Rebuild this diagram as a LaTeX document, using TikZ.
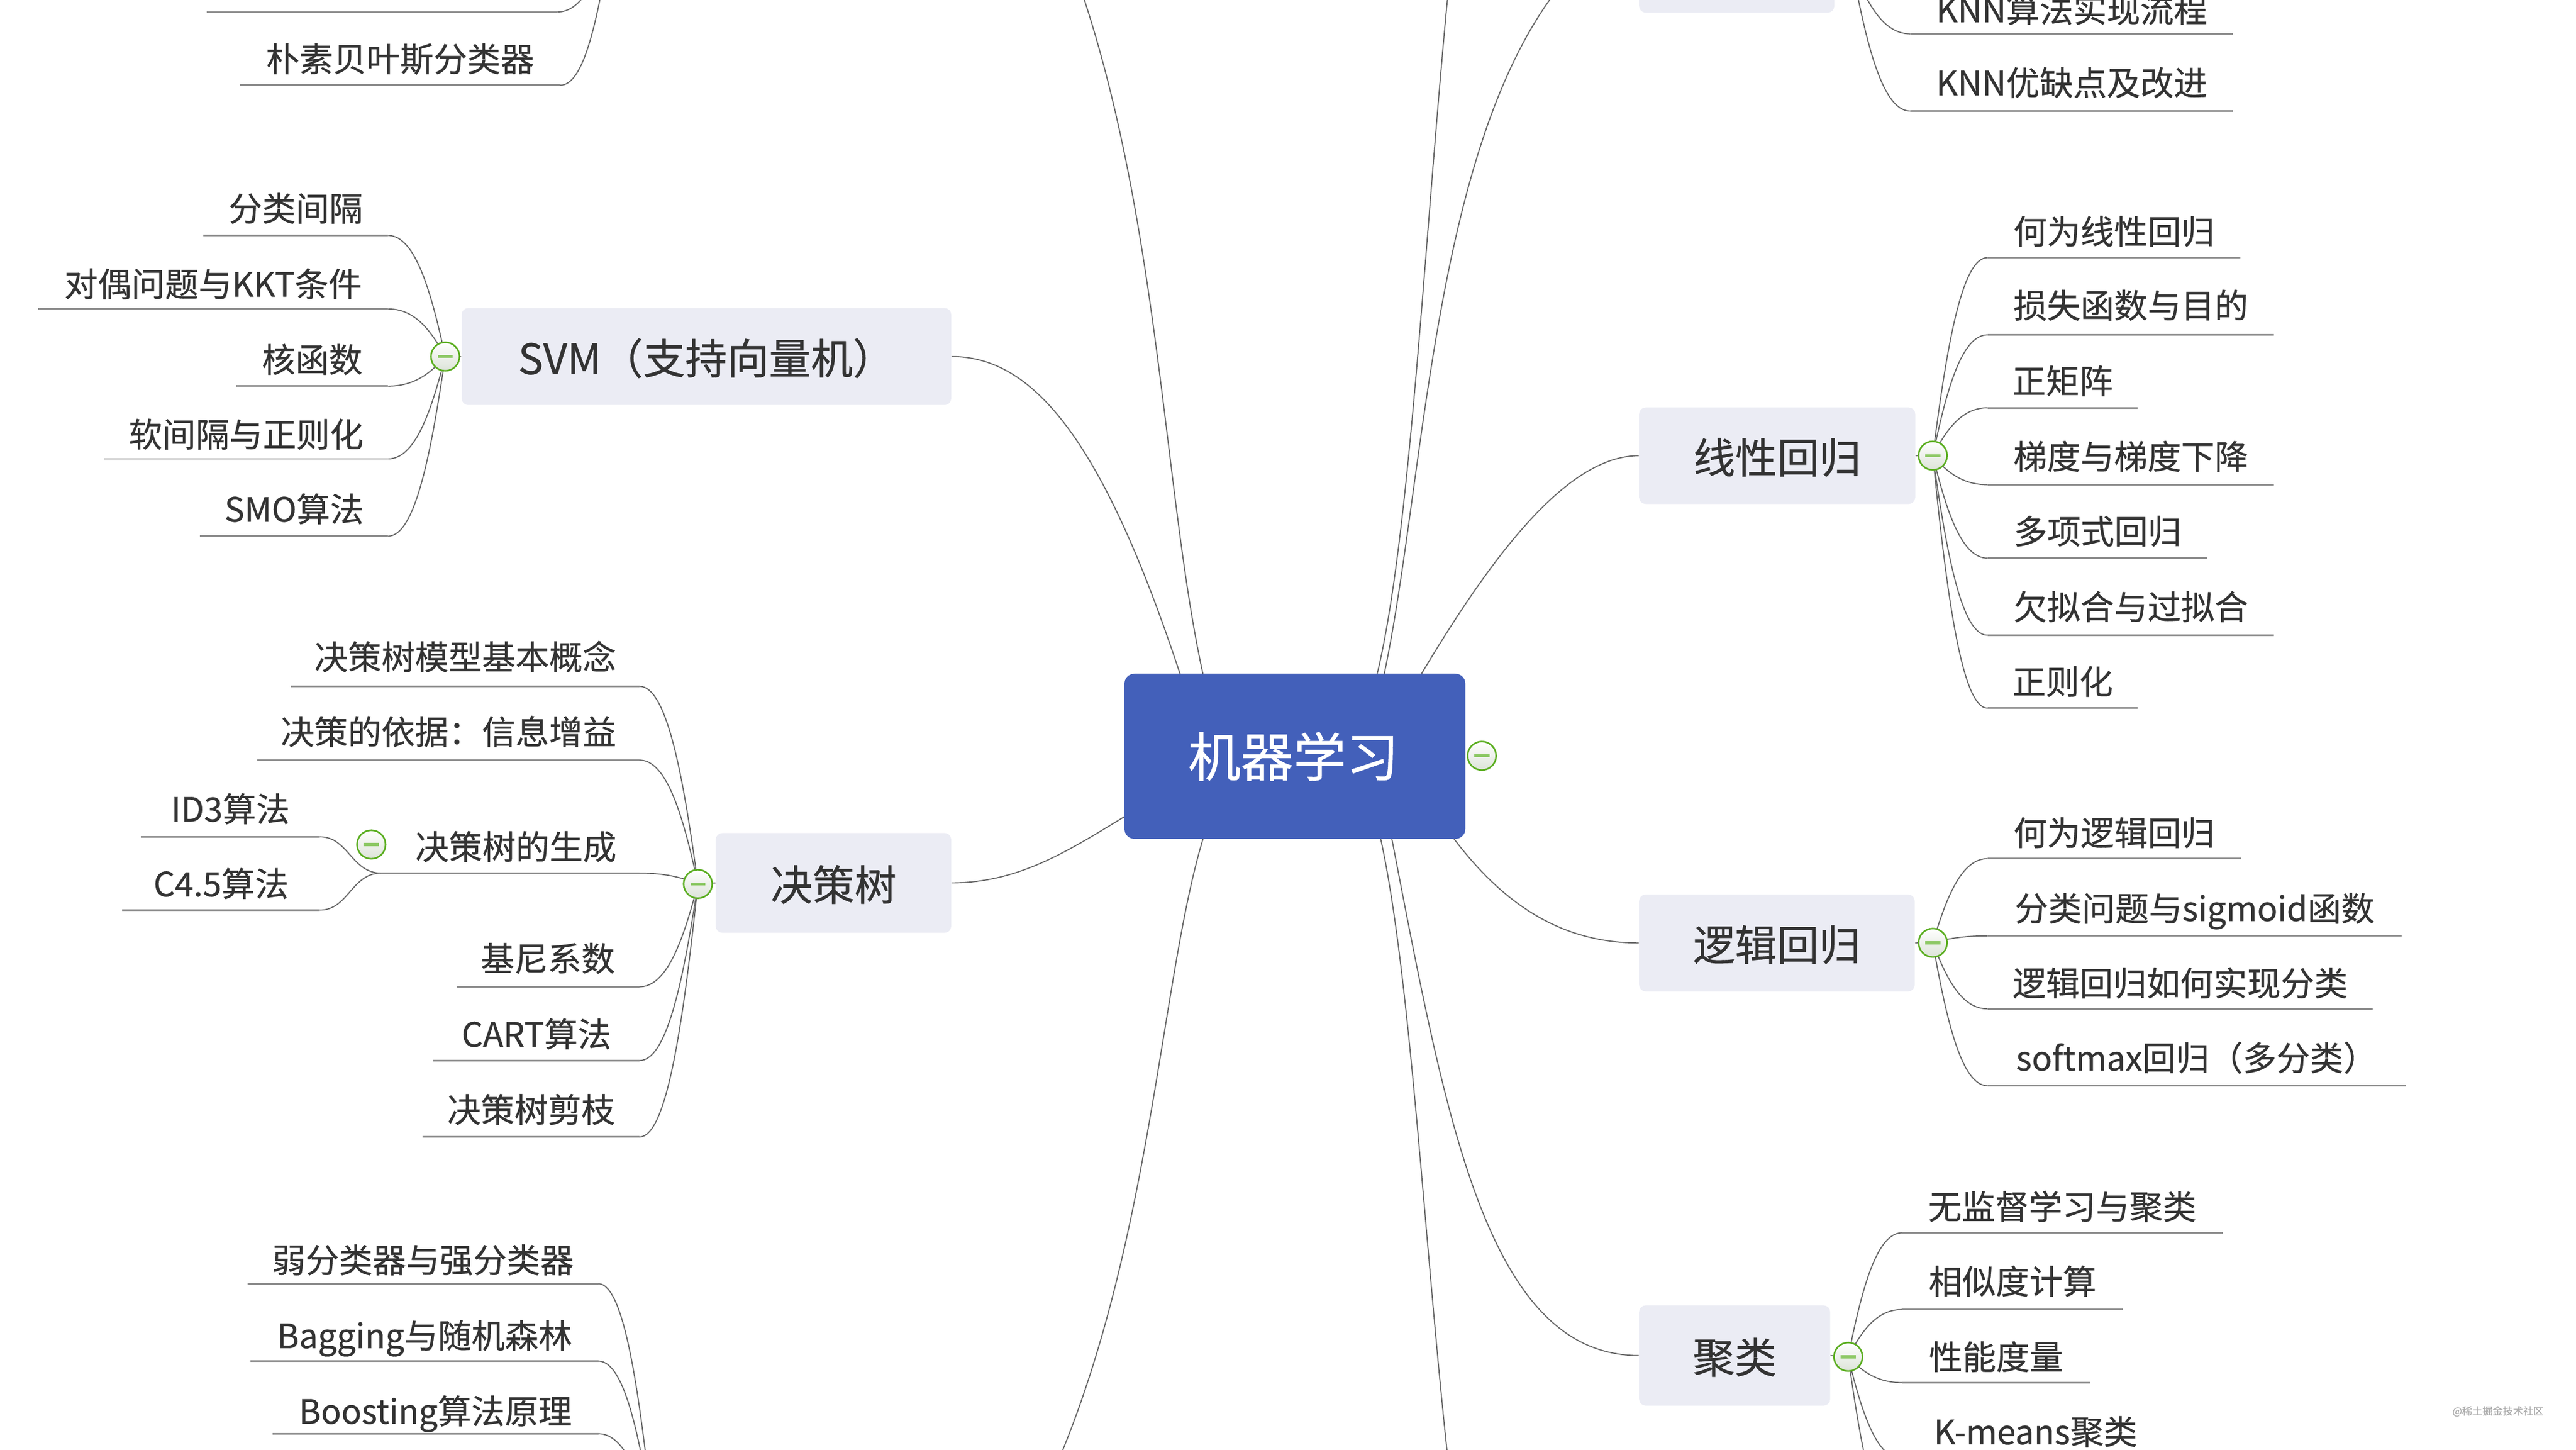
\documentclass[tikz,border=0pt]{standalone}
\usepackage{fontspec}
\setmainfont{Noto Sans CJK SC}[FakeBold=0.5]
\usetikzlibrary{calc,backgrounds}
\definecolor{txt}{HTML}{333333}
\definecolor{conn}{HTML}{686868}
\definecolor{uline}{HTML}{8E8E8E}
\definecolor{topicfill}{HTML}{EBECF4}
\definecolor{rootfill}{HTML}{4360BA}
\definecolor{toggreen}{HTML}{5BAE21}
\definecolor{togminus}{HTML}{8CC864}
\definecolor{togbottom}{HTML}{DCE3D8}
\tikzset{
  connline/.style={draw=conn,line width=0.55pt},
  ulinepath/.style={draw=uline,line width=0.85pt},
  mmleaf/.style={inner sep=0pt,anchor=south,text=txt,
    font=\fontsize{16.8}{20}\selectfont,text height=15pt,text depth=2.2pt},
  mmtopic/.style={inner sep=0pt,fill=topicfill,rounded corners=3.3pt,text=txt,
    font=\fontsize{21}{25}\selectfont,text height=19.6pt,text depth=2pt},
  mmroot/.style={inner sep=0pt,fill=rootfill,rounded corners=5pt,text=white,
    font=\fontsize{26.4}{30}\selectfont},
  mmtoggle/.style={circle,inner sep=0pt,minimum size=14.3pt,draw=toggreen,line width=0.8pt,
    top color=white,bottom color=togbottom,
    path picture={\draw[togminus,line width=1.5pt]
      ([xshift=-3.8pt]path picture bounding box.center) -- ([xshift=3.8pt]path picture bounding box.center);}},
  wmark/.style={text=black!32,font=\fontsize{5.1}{6}\selectfont,inner sep=0pt}
}
% name, x0, x1, underline y, text centre y, text
\newcommand{\mmleafnode}[6]{%
  \node[mmleaf,minimum width={(#3-#2)*0.8232pt},minimum height={2*(#4-#5)*0.8232pt}] (#1) at ({(#2+#3)/2},#4) {#6};
  \draw[ulinepath] (#1.south west) -- (#1.south east);}
% name, x0, x1, y0, y1, text
\newcommand{\mmtopicnode}[6]{%
  \node[mmtopic,minimum width={(#3-#2)*0.8232pt},minimum height={(#5-#4)*0.8232pt}] (#1) at ({(#2+#3)/2},{(#4+#5)/2}) {#6};}
% from, to : branch shaped curve on the background layer
\newcommand{\mmbranch}[2]{%
  \begin{pgfonlayer}{background}
  \draw[connline] let \p1=(#1),\p2=(#2) in (\p1) .. controls ({\x1+.46*(\x2-\x1)},\y1) and ({\x1+.74*(\x2-\x1)},{\y1+.43*(\y2-\y1)}) .. (\p2);
  \end{pgfonlayer}}
\begin{document}
\begin{tikzpicture}[x=0.02893cm,y=-0.02893cm]
\useasboundingbox (0,0) rectangle (1568,882.45);

% root
\node[mmroot,minimum width={207.5*0.8232pt},minimum height={100.5*0.8232pt}] (root) at (788.2,460.3) {\kern-1.5pt机器学习};
\node[mmtoggle] (troot) at (902,460) {};

% root attach points
\coordinate (ct1) at (718.4,410.5);
\coordinate (ct2) at (732.3,410.5);
\coordinate (ct3) at (838.2,410.5);
\coordinate (ct4) at (842.5,410.5);
\coordinate (ct5) at (865,410.5);
\coordinate (cb1) at (732.3,510.5);
\coordinate (cb2) at (840.4,510.5);
\coordinate (cb3) at (847.2,510.5);
\coordinate (cb4) at (885,510.5);
% off-picture ends
\coordinate (offbayes) at (655,-15);
\coordinate (offtop) at (885,-40);
\coordinate (offtopb) at (955,-15);
\coordinate (offbottomL) at (630,920);
\coordinate (offbottomR) at (885,920);
\coordinate (tbayes) at (372,-40);
\coordinate (tboost) at (398,930);
\coordinate (tknn) at (1127,-22);
\coordinate (nextcluster) at (1158,934);
\coordinate (rootw) at (684.5,497);
\coordinate (gjoin) at (232,531.4);

% topics
\mmtopicnode{svm}{281}{579}{187.5}{246.5}{SVM（支持向量机）}
\mmtopicnode{tree}{435.7}{579}{507}{567.7}{决策树}
\mmtopicnode{knn}{997.7}{1116.5}{-52}{7.7}{}
\mmtopicnode{lin}{997.7}{1165.8}{248}{306.7}{线性回归}
\mmtopicnode{logi}{997.7}{1165.5}{544.4}{603.4}{逻辑回归}
\mmtopicnode{clu}{997.7}{1114}{794.5}{855.5}{聚类}

% toggles
\node[mmtoggle] (tsvm) at (271,217) {};
\node[mmtoggle] (ttree) at (424.8,538) {};
\node[mmtoggle] (tgen) at (226,514) {};
\node[mmtoggle] (tlin) at (1176.5,277.3) {};
\node[mmtoggle] (tlogi) at (1176.5,573.8) {};
\node[mmtoggle] (tclu) at (1125,825.8) {};

% root connectors
\begin{pgfonlayer}{background}
\draw[connline] (svm.east) .. controls (630,217) and (672,270) .. (ct1);
\draw[connline] (ct2) .. controls (708,300) and (706,130) .. (offbayes);
\draw[connline] (ct3) .. controls (860,320) and (868,120) .. (offtop);
\draw[connline] (ct4) .. controls (868,290) and (872,80) .. (offtopb);
\draw[connline] (lin.west) .. controls (955,277.4) and (910,335) .. (ct5);
\draw[connline] (tree.east) .. controls (620,537.3) and (650,518) .. (rootw);
\draw[connline] (cb1) .. controls (705,600) and (700,780) .. (offbottomL);
\draw[connline] (cb2) .. controls (860,600) and (868,780) .. (offbottomR);
\draw[connline] (cb3) .. controls (880,680) and (905,825) .. (clu.west);
\draw[connline] (cb4) .. controls (915,550) and (950,573.9) .. (logi.west);
\draw[connline] (lin.east) -- (tlin);
\draw[connline] (logi.east) -- (tlogi);
\draw[connline] (clu.east) -- (tclu);
\draw[connline] (svm.west) -- (tsvm);
\draw[connline] (tree.west) -- (ttree);
\end{pgfonlayer}

% naive bayes fragment
\mmleafnode{bayes1}{126}{339}{7.3}{-9}{}
\mmleafnode{bayes2}{146}{341}{51.8}{36}{朴素贝叶斯分类器}
\mmbranch{bayes1.south east}{tbayes}
\mmbranch{bayes2.south east}{tbayes}

% SVM
\mmleafnode{s1}{124}{236}{143.3}{127}{分类间隔}
\mmleafnode{s2}{23.4}{236}{188}{173}{对偶问题与KKT条件}
\mmleafnode{s3}{144}{236}{235}{219}{核函数}
\mmleafnode{s4}{63.5}{236}{279.3}{264.5}{软间隔与正则化}
\mmleafnode{s5}{122}{236}{326.3}{310}{SMO算法}
\foreach \lname in {s1,s2,s3,s4,s5}{\mmbranch{\lname.south east}{tsvm}}

% decision tree
\mmleafnode{d1}{177.4}{389}{417.7}{400}{决策树模型基本概念}
\mmleafnode{d2}{157}{389}{462.6}{445.5}{决策的依据：信息增益}
\mmleafnode{d3}{239}{389}{531.4}{515.5}{决策树的生成}
\mmleafnode{d4}{278}{389}{600.6}{583.5}{基尼系数}
\mmleafnode{d5}{264}{389}{645.5}{629.5}{CART算法}
\mmleafnode{d6}{257.6}{389}{692}{675.5}{决策树剪枝}
\foreach \lname in {d1,d2,d3,d4,d5,d6}{\mmbranch{\lname.south east}{ttree}}
\mmleafnode{g1}{86}{194.5}{509.3}{492.5}{ID3算法}
\mmleafnode{g2}{74.6}{194.5}{553.9}{538}{C4.5算法}
\draw[ulinepath] (gjoin) -- (d3.south west);
\begin{pgfonlayer}{background}
\draw[connline] (g1.south east) .. controls (212,509.3) and (214,531.4) .. (gjoin);
\draw[connline] (g2.south east) .. controls (212,553.9) and (214,531.4) .. (gjoin);
\end{pgfonlayer}

% boosting fragment
\mmleafnode{b1}{150.8}{364}{781.3}{767}{弱分类器与强分类器}
\mmleafnode{b2}{152.8}{364}{828.4}{813}{Bagging与随机森林}
\mmleafnode{b3}{166}{364}{872.6}{859}{Boosting算法原理}
\foreach \lname in {b1,b2,b3}{\mmbranch{\lname.south east}{tboost}}

% KNN fragment
\mmleafnode{k1}{1163}{1359}{20.6}{6}{KNN算法实现流程}
\mmleafnode{k2}{1163}{1359}{67.6}{50.5}{KNN优缺点及改进}
\mmbranch{k1.south west}{tknn}
\mmbranch{k2.south west}{tknn}

% linear regression
\mmleafnode{l1}{1210}{1363.6}{156.8}{141}{何为线性回归}
\mmleafnode{l2}{1210}{1384}{203.8}{186}{损失函数与目的}
\mmleafnode{l3}{1210}{1301}{248.2}{232}{正矩阵}
\mmleafnode{l4}{1210}{1384}{295}{278}{梯度与梯度下降}
\mmleafnode{l5}{1210}{1343.5}{339.7}{323.5}{多项式回归}
\mmleafnode{l6}{1210}{1384}{386.6}{369.5}{欠拟合与过拟合}
\mmleafnode{l7}{1210}{1301}{431}{415}{正则化}
\foreach \lname in {l1,l2,l3,l4,l5,l6,l7}{\mmbranch{\lname.south west}{tlin}}

% logistic regression
\mmleafnode{r1}{1210}{1363.7}{522.6}{507}{何为逻辑回归}
\mmleafnode{r2}{1210}{1461.7}{569.6}{553}{分类问题与sigmoid函数}
\mmleafnode{r3}{1210}{1444}{614}{598.5}{逻辑回归如何实现分类}
\mmleafnode{r4}{1210}{1464}{660.8}{644}{softmax回归（多分类）}
\foreach \lname in {r1,r2,r3,r4}{\mmbranch{\lname.south west}{tlogi}}

% clustering
\mmleafnode{c1}{1158}{1352.6}{750.3}{734.5}{无监督学习与聚类}
\mmleafnode{c2}{1158}{1292}{797}{780}{相似度计算}
\mmleafnode{c3}{1158}{1272}{841.5}{826}{性能度量}
\mmleafnode{c4}{1158}{1320}{888}{871.5}{K-means聚类}
\foreach \lname in {c1,c2,c3,c4}{\mmbranch{\lname.south west}{tclu}}
\mmbranch{nextcluster}{tclu}

\node[wmark] (wm) at (1520.5,859) {@稀土掘金技术社区};
\end{tikzpicture}
\end{document}
